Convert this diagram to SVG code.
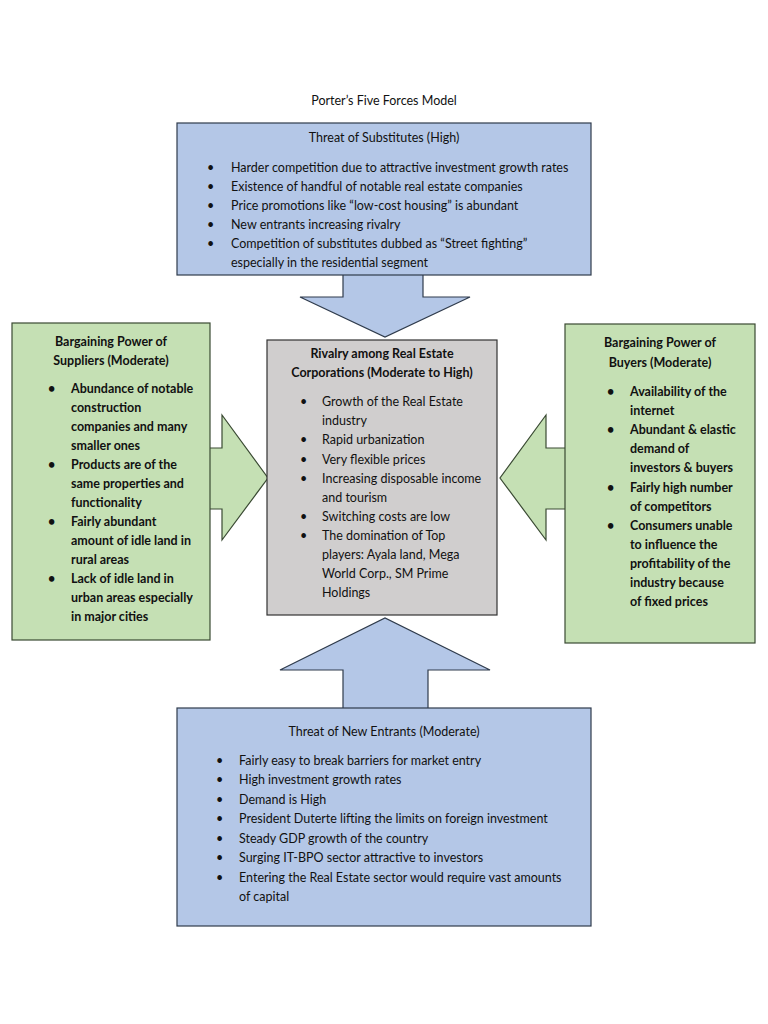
<svg xmlns="http://www.w3.org/2000/svg" width="768" height="1024" viewBox="0 0 768 1024">
<style>
text{font-family:Lato,"Open Sans",sans-serif;font-size:12.5px;fill:#111}
.b{font-weight:bold}
.blue{fill:#b4c7e7;stroke:#2f3b4c;stroke-width:1.2}
.green{fill:#c5e0b4;stroke:#3a4a33;stroke-width:1.2}
.gray{fill:#d0cece;stroke:#333;stroke-width:1.2}
</style>
<rect width="768" height="1024" fill="#fff"/>
<text x="384" y="105" text-anchor="middle">Porter’s Five Forces Model</text>
<g id="connectors">
<polygon class="blue" points="343,270 423,270 423,297 470,297 385,337 300,297 343,297"/>
<polygon class="green" points="205,448 222,448 222,415 268,478 222,540 222,509 205,509"/>
<polygon class="green" points="570,448 546,448 546,415 500,478 546,540 546,509 570,509"/>
<polygon class="blue" points="343,712 428,712 428,670 490,670 385,618 280,670 343,670"/>
</g>
<g id="substitutes">
<rect class="blue" x="177" y="123" width="414" height="152"/>
<text x="384" y="142" text-anchor="middle">Threat of Substitutes (High)</text>
<g>
<text x="207" y="172">•</text><text x="231" y="172">Harder competition due to attractive investment growth rates</text>
<text x="207" y="191">•</text><text x="231" y="191">Existence of handful of notable real estate companies</text>
<text x="207" y="210">•</text><text x="231" y="210">Price promotions like “low-cost housing” is abundant</text>
<text x="207" y="229">•</text><text x="231" y="229">New entrants increasing rivalry</text>
<text x="207" y="248">•</text><text x="231" y="248">Competition of substitutes dubbed as “Street fighting”</text>
<text x="231" y="267">especially in the residential segment</text>
</g>
</g>
<g id="suppliers" class="b">
<rect class="green" x="12" y="323" width="198" height="317"/>
<text class="b" x="111" y="346" text-anchor="middle">Bargaining Power of</text>
<text class="b" x="111" y="365" text-anchor="middle">Suppliers (Moderate)</text>
<text class="b" x="48" y="393">•</text><text class="b" x="71" y="393">Abundance of notable</text>
<text class="b" x="71" y="412">construction</text>
<text class="b" x="71" y="431">companies and many</text>
<text class="b" x="71" y="450">smaller ones</text>
<text class="b" x="48" y="469">•</text><text class="b" x="71" y="469">Products are of the</text>
<text class="b" x="71" y="488">same properties and</text>
<text class="b" x="71" y="507">functionality</text>
<text class="b" x="48" y="526">•</text><text class="b" x="71" y="526">Fairly abundant</text>
<text class="b" x="71" y="545">amount of idle land in</text>
<text class="b" x="71" y="564">rural areas</text>
<text class="b" x="48" y="583">•</text><text class="b" x="71" y="583">Lack of idle land in</text>
<text class="b" x="71" y="602">urban areas especially</text>
<text class="b" x="71" y="621">in major cities</text>
</g>
<g id="rivalry">
<rect class="gray" x="267" y="340" width="230" height="275"/>
<text class="b" x="382" y="358" text-anchor="middle">Rivalry among Real Estate</text>
<text class="b" x="382" y="377" text-anchor="middle">Corporations (Moderate to High)</text>
<text x="300" y="406">•</text><text x="322" y="406">Growth of the Real Estate</text>
<text x="322" y="425">industry</text>
<text x="300" y="444">•</text><text x="322" y="444">Rapid urbanization</text>
<text x="300" y="464">•</text><text x="322" y="464">Very flexible prices</text>
<text x="300" y="483">•</text><text x="322" y="483">Increasing disposable income</text>
<text x="322" y="502">and tourism</text>
<text x="300" y="521">•</text><text x="322" y="521">Switching costs are low</text>
<text x="300" y="540">•</text><text x="322" y="540">The domination of Top</text>
<text x="322" y="559">players: Ayala land, Mega</text>
<text x="322" y="578">World Corp., SM Prime</text>
<text x="322" y="597">Holdings</text>
</g>
<g id="buyers">
<rect class="green" x="565" y="324" width="190" height="319"/>
<text class="b" x="660" y="347" text-anchor="middle">Bargaining Power of</text>
<text class="b" x="660" y="367" text-anchor="middle">Buyers (Moderate)</text>
<text class="b" x="607" y="396">•</text><text class="b" x="630" y="396">Availability of the</text>
<text class="b" x="630" y="415">internet</text>
<text class="b" x="607" y="434">•</text><text class="b" x="630" y="434">Abundant &amp; elastic</text>
<text class="b" x="630" y="453">demand of</text>
<text class="b" x="630" y="472">investors &amp; buyers</text>
<text class="b" x="607" y="492">•</text><text class="b" x="630" y="492">Fairly high number</text>
<text class="b" x="630" y="511">of competitors</text>
<text class="b" x="607" y="530">•</text><text class="b" x="630" y="530">Consumers unable</text>
<text class="b" x="630" y="549">to influence the</text>
<text class="b" x="630" y="568">profitability of the</text>
<text class="b" x="630" y="587">industry because</text>
<text class="b" x="630" y="606">of fixed prices</text>
</g>
<g id="entrants">
<rect class="blue" x="177" y="708" width="414" height="218"/>
<text x="384" y="736" text-anchor="middle">Threat of New Entrants (Moderate)</text>
<text x="216" y="765">•</text><text x="239" y="765">Fairly easy to break barriers for market entry</text>
<text x="216" y="784">•</text><text x="239" y="784">High investment growth rates</text>
<text x="216" y="804">•</text><text x="239" y="804">Demand is High</text>
<text x="216" y="823">•</text><text x="239" y="823">President Duterte lifting the limits on foreign investment</text>
<text x="216" y="843">•</text><text x="239" y="843">Steady GDP growth of the country</text>
<text x="216" y="862">•</text><text x="239" y="862">Surging IT-BPO sector attractive to investors</text>
<text x="216" y="882">•</text><text x="239" y="882">Entering the Real Estate sector would require vast amounts</text>
<text x="239" y="901">of capital</text>
</g>
</svg>
